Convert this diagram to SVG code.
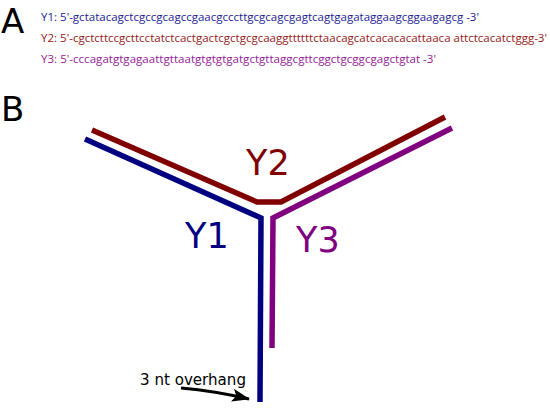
<svg xmlns="http://www.w3.org/2000/svg" width="550" height="408" viewBox="0 0 550 408">
<style>
.panel{font-family:"DejaVu Sans","Liberation Sans",sans-serif;font-size:34px;fill:#000}
.seq{font-family:"Open Sans","Liberation Sans",sans-serif;font-size:11.5px}
.lbl{font-family:"DejaVu Sans","Liberation Sans",sans-serif;font-size:35px}
.strand{fill:none;stroke-width:5.5;stroke-linejoin:miter;stroke-linecap:butt}
</style>
<defs>
<marker id="ah" markerWidth="18" markerHeight="13" refX="17" refY="6.5" orient="auto" markerUnits="userSpaceOnUse">
<path d="M0,0 L18,6.5 L0,13 L4,6.5 Z" fill="#000"/>
</marker>
</defs>
<rect width="550" height="408" fill="#fff"/>
<g id="panelA">
<text class="panel" x="1" y="33">A</text>
<text class="seq" x="41" y="21" fill="#1c1c96" textLength="438" lengthAdjust="spacingAndGlyphs">Y1: 5'-gctatacagctcgccgcagccgaacgcccttgcgcagcgagtcagtgagataggaagcggaagagcg -3'</text>
<text class="seq" x="41" y="42" fill="#951a1a" textLength="506" lengthAdjust="spacingAndGlyphs">Y2: 5'-cgctcttccgcttcctatctcactgactcgctgcgcaaggttttttctaacagcatcacacacattaaca attctcacatctggg-3'</text>
<text class="seq" x="41" y="63" fill="#961c96" textLength="395" lengthAdjust="spacingAndGlyphs">Y3: 5'-cccagatgtgagaattgttaatgtgtgtgatgctgttaggcgttcggctgcggcgagctgtat -3'</text>
</g>
<text class="panel" x="1" y="121">B</text>
<g id="strands">
<path id="Y2-strand" class="strand" stroke="#800000" d="M92,130 L257,202 L281,202 L445,117"/>
<path id="Y1-strand" class="strand" stroke="#000080" d="M85,139 L261,218 L260,402"/>
<path id="Y3-strand" class="strand" stroke="#800080" d="M452,128 L273,218 L272,348"/>
</g>
<g id="labels">
<text class="lbl" x="246" y="175" fill="#800000">Y2</text>
<text class="lbl" x="185" y="248" fill="#000080">Y1</text>
<text class="lbl" x="296" y="252" fill="#800080">Y3</text>
</g>
<g id="overhang">
<text x="140" y="385" font-family="DejaVu Sans, Liberation Sans, sans-serif" font-size="15" fill="#000" textLength="106" lengthAdjust="spacingAndGlyphs">3 nt overhang</text>
<path d="M181,388 Q215,391 249,399" fill="none" stroke="#000" stroke-width="3" marker-end="url(#ah)"/>
</g>
</svg>
